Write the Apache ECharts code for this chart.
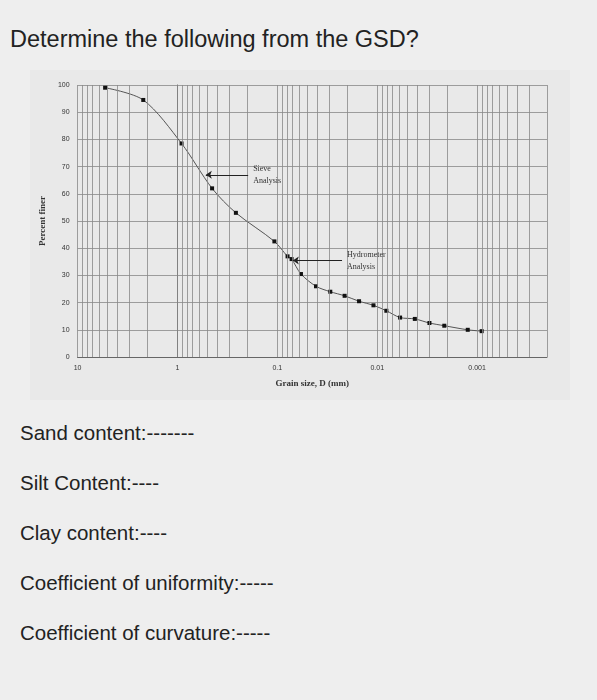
<!DOCTYPE html>
<html><head><meta charset="utf-8">
<script src="https://cdn.jsdelivr.net/npm/echarts@6/dist/echarts.min.js"></script>
<style>
body{margin:0;width:597px;height:700px;background:#eeeeee;font-family:"Liberation Sans",Arial,sans-serif;position:relative;overflow:hidden;color:#222}
.t{position:absolute;left:10px;top:26px;font-size:23.5px}
.q{position:absolute;left:20px;font-size:20.5px}
#c{position:absolute;left:30px;top:70px;width:540px;height:330px}
</style></head><body>
<div class="t">Determine the following from the GSD?</div>
<div id="c"></div>
<div class="q" style="top:421px">Sand content:-------</div>
<div class="q" style="top:471px">Silt Content:----</div>
<div class="q" style="top:521px">Clay content:----</div>
<div class="q" style="top:571px">Coefficient of uniformity:-----</div>
<div class="q" style="top:621px">Coefficient of curvature:-----</div>
<script>
const grainSize=[5.3,2.2,0.91,0.45,0.26,0.107,0.079,0.072,0.058,0.041,0.0295,0.0212,0.0152,0.0109,0.0081,0.0059,0.0042,0.0030,0.00213,0.00124,0.0009];
const percentFiner=[99,94.5,78.5,62,53,42.5,37,36,30.5,26,24,22.5,20.5,19,17,14.5,14,12.5,11.5,10,9.5];
const xTickLabels=[10,1,0.1,0.01,0.001];
const L=Math.log10;
const grid=[];
for(let e=-4;e<=0;e++)for(let k=1;k<=9;k++){const v=L(k*Math.pow(10,e));if(v>=-3.7&&v<=1)grid.push({xAxis:v});}
grid.push({xAxis:1});
const ch=echarts.init(document.getElementById('c'));
ch.setOption({
 backgroundColor:'#e9e9e9',animation:false,
 grid:{left:47,right:23,top:15,bottom:43},
 xAxis:{type:'value',inverse:true,min:-3.7,max:1,
  name:'Grain size, D (mm)',nameLocation:'middle',nameGap:22,
  nameTextStyle:{fontFamily:'Liberation Serif',fontWeight:'bold',fontSize:9,color:'#333'},
  axisLine:{lineStyle:{color:'#666'}},axisTick:{show:false},splitLine:{show:false},
  axisLabel:{customValues:xTickLabels.map(L),fontSize:7,color:'#333',formatter:v=>String(xTickLabels.find(t=>Math.abs(L(t)-v)<1e-6))}},
 yAxis:{type:'value',min:0,max:100,interval:10,
  name:'Percent finer',nameLocation:'middle',nameGap:30,
  nameTextStyle:{fontFamily:'Liberation Serif',fontWeight:'bold',fontSize:9,color:'#333'},
  axisLine:{show:true,lineStyle:{color:'#666'}},axisTick:{show:false},
  axisLabel:{fontSize:7,color:'#333'},
  splitLine:{lineStyle:{color:'#888',width:0.8}}},
 series:[{type:'line',smooth:0.3,data:grainSize.map((d,i)=>[L(d),percentFiner[i]]),
  symbol:'rect',symbolSize:4,itemStyle:{color:'#111'},lineStyle:{color:'#555',width:1},
  markLine:{silent:true,symbol:'none',label:{show:false},lineStyle:{color:'#888',width:0.8,type:'solid'},data:grid}},
  {type:'line',data:[],markLine:{silent:true,symbol:['arrow','none'],symbolSize:6,
   lineStyle:{color:'#222',width:1,type:'solid'},
   label:{show:true,position:'end',fontFamily:'Liberation Serif',fontSize:8,color:'#333',lineHeight:12},
   data:[[{coord:[L(0.52),67],label:{formatter:'Sieve\nAnalysis'}},{coord:[L(0.196),67]}],
         [{coord:[L(0.07),35.5],label:{formatter:'Hydrometer\nAnalysis'}},{coord:[L(0.0225),35.5]}]]}}]
});
</script></body></html>
